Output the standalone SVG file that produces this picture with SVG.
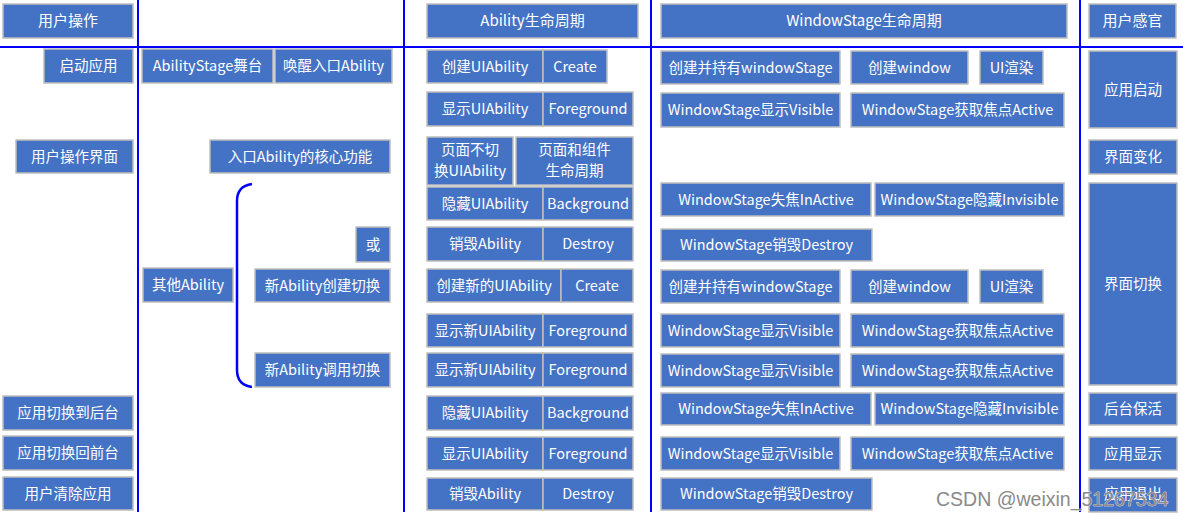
<svg xmlns="http://www.w3.org/2000/svg" width="1183" height="518" viewBox="0 0 1183 518">
<style>
.b{fill:#4472C4;stroke:#BFBFBF;stroke-width:1.5}
.t{fill:#FFFFFF;font-family:"Noto Sans CJK SC","Microsoft YaHei",sans-serif;font-size:14.5px;text-anchor:middle;dominant-baseline:central;transform:translateY(-1.5px)}
.h{font-size:15px}
.ln{stroke:#0000FF;stroke-width:2;fill:none}
.wm{fill:#8A8A8A;font-family:"Liberation Sans",Arial,sans-serif;font-size:19.5px;stroke:#FFFFFF;stroke-width:0.6;paint-order:stroke}
</style>
<rect width="1183" height="518" fill="#FFFFFF"/>
<g id="connectors">
<line class="ln" x1="0" y1="47" x2="1183" y2="47"/>
<line class="ln" x1="138" y1="0" x2="138" y2="512"/>
<line class="ln" x1="404" y1="0" x2="404" y2="512"/>
<line class="ln" x1="651" y1="0" x2="651" y2="512"/>
<line class="ln" x1="1080" y1="0" x2="1080" y2="512"/>
<path class="ln" style="stroke-width:2.5" d="M252,184 Q237,186 237,201 L237,370 Q237,385 252,387"/>
</g>
<g id="h-user"><rect class="b" x="3" y="4" width="130" height="34"/><text class="t h" x="68" y="21">用户操作</text></g>
<g id="h-ability"><rect class="b" x="427" y="4" width="211" height="34"/><text class="t h" x="532.5" y="21">Ability生命周期</text></g>
<g id="h-window"><rect class="b" x="661" y="4" width="406" height="34"/><text class="t h" x="864" y="21">WindowStage生命周期</text></g>
<g id="h-sense"><rect class="b" x="1089" y="4" width="87" height="34"/><text class="t h" x="1132.5" y="21">用户感官</text></g>
<g id="u1"><rect class="b" x="44" y="49" width="89" height="34"/><text class="t" x="88.5" y="66">启动应用</text></g>
<g id="u2"><rect class="b" x="16" y="140" width="117" height="33"/><text class="t" x="74.5" y="156.5">用户操作界面</text></g>
<g id="u3"><rect class="b" x="3" y="396" width="130" height="34"/><text class="t" x="68" y="413">应用切换到后台</text></g>
<g id="u4"><rect class="b" x="3" y="436" width="130" height="34"/><text class="t" x="68" y="453">应用切换回前台</text></g>
<g id="u5"><rect class="b" x="3" y="477" width="130" height="33"/><text class="t" x="68" y="493.5">用户清除应用</text></g>
<g id="s1"><rect class="b" x="142" y="49" width="131" height="34"/><text class="t" x="207.5" y="66">AbilityStage舞台</text></g>
<g id="s2"><rect class="b" x="275" y="49" width="117" height="34"/><text class="t" x="333.5" y="66">唤醒入口Ability</text></g>
<g id="s3"><rect class="b" x="210" y="140" width="180" height="33"/><text class="t" x="300" y="156.5">入口Ability的核心功能</text></g>
<g id="s4"><rect class="b" x="356" y="227" width="34" height="35"/><text class="t" x="373" y="244.5">或</text></g>
<g id="s5"><rect class="b" x="143" y="268" width="90" height="34"/><text class="t" x="188" y="285">其他Ability</text></g>
<g id="s6"><rect class="b" x="255" y="269" width="135" height="33"/><text class="t" x="322.5" y="285.5">新Ability创建切换</text></g>
<g id="s7"><rect class="b" x="255" y="353" width="135" height="34"/><text class="t" x="322.5" y="370">新Ability调用切换</text></g>
<g id="a1"><rect class="b" x="427" y="50" width="116" height="33"/><text class="t" x="485" y="66.5">创建UIAbility</text><rect class="b" x="543" y="50" width="64" height="33"/><text class="t" x="575" y="66.5">Create</text></g>
<g id="a2"><rect class="b" x="427" y="92" width="116" height="34"/><text class="t" x="485" y="109">显示UIAbility</text><rect class="b" x="543" y="92" width="90" height="34"/><text class="t" x="588" y="109">Foreground</text></g>
<g id="a3"><rect class="b" x="427" y="137" width="86" height="48"/><text class="t" x="470" y="150">页面不切</text><text class="t" x="470" y="171">换UIAbility</text><rect class="b" x="516" y="137" width="117" height="48"/><text class="t" x="574.5" y="150">页面和组件</text><text class="t" x="574.5" y="171">生命周期</text></g>
<g id="a4"><rect class="b" x="427" y="187" width="116" height="33"/><text class="t" x="485" y="203.5">隐藏UIAbility</text><rect class="b" x="543" y="187" width="90" height="33"/><text class="t" x="588" y="203.5">Background</text></g>
<g id="a5"><rect class="b" x="427" y="227" width="116" height="34"/><text class="t" x="485" y="244">销毁Ability</text><rect class="b" x="543" y="227" width="90" height="34"/><text class="t" x="588" y="244">Destroy</text></g>
<g id="a6"><rect class="b" x="427" y="269" width="134" height="33"/><text class="t" x="494" y="285.5">创建新的UIAbility</text><rect class="b" x="561" y="269" width="72" height="33"/><text class="t" x="597" y="285.5">Create</text></g>
<g id="a7"><rect class="b" x="427" y="314" width="116" height="33"/><text class="t" x="485" y="330.5">显示新UIAbility</text><rect class="b" x="543" y="314" width="90" height="33"/><text class="t" x="588" y="330.5">Foreground</text></g>
<g id="a8"><rect class="b" x="427" y="353" width="116" height="34"/><text class="t" x="485" y="370">显示新UIAbility</text><rect class="b" x="543" y="353" width="90" height="34"/><text class="t" x="588" y="370">Foreground</text></g>
<g id="a9"><rect class="b" x="427" y="396" width="116" height="34"/><text class="t" x="485" y="413">隐藏UIAbility</text><rect class="b" x="543" y="396" width="90" height="34"/><text class="t" x="588" y="413">Background</text></g>
<g id="a10"><rect class="b" x="427" y="437" width="116" height="33"/><text class="t" x="485" y="453.5">显示UIAbility</text><rect class="b" x="543" y="437" width="90" height="33"/><text class="t" x="588" y="453.5">Foreground</text></g>
<g id="a11"><rect class="b" x="427" y="478" width="116" height="32"/><text class="t" x="485" y="494">销毁Ability</text><rect class="b" x="543" y="478" width="90" height="32"/><text class="t" x="588" y="494">Destroy</text></g>
<g id="w1"><rect class="b" x="661" y="51" width="179" height="33"/><text class="t" x="750.5" y="67.5">创建并持有windowStage</text><rect class="b" x="851" y="51" width="117" height="33"/><text class="t" x="909.5" y="67.5">创建window</text><rect class="b" x="980" y="51" width="63" height="33"/><text class="t" x="1011.5" y="67.5">UI渲染</text></g>
<g id="w2"><rect class="b" x="661" y="93" width="179" height="34"/><text class="t" x="750.5" y="110">WindowStage显示Visible</text><rect class="b" x="851" y="93" width="213" height="34"/><text class="t" x="957.5" y="110">WindowStage获取焦点Active</text></g>
<g id="w3"><rect class="b" x="661" y="183" width="210" height="33"/><text class="t" x="766" y="199.5">WindowStage失焦InActive</text><rect class="b" x="875" y="183" width="189" height="33"/><text class="t" x="969.5" y="199.5">WindowStage隐藏Invisible</text></g>
<g id="w4"><rect class="b" x="661" y="229" width="211" height="32"/><text class="t" x="766.5" y="245">WindowStage销毁Destroy</text></g>
<g id="w5"><rect class="b" x="661" y="270" width="179" height="33"/><text class="t" x="750.5" y="286.5">创建并持有windowStage</text><rect class="b" x="851" y="270" width="117" height="33"/><text class="t" x="909.5" y="286.5">创建window</text><rect class="b" x="980" y="270" width="63" height="33"/><text class="t" x="1011.5" y="286.5">UI渲染</text></g>
<g id="w6"><rect class="b" x="661" y="314" width="179" height="33"/><text class="t" x="750.5" y="330.5">WindowStage显示Visible</text><rect class="b" x="851" y="314" width="213" height="33"/><text class="t" x="957.5" y="330.5">WindowStage获取焦点Active</text></g>
<g id="w7"><rect class="b" x="661" y="354" width="179" height="33"/><text class="t" x="750.5" y="370.5">WindowStage显示Visible</text><rect class="b" x="851" y="354" width="213" height="33"/><text class="t" x="957.5" y="370.5">WindowStage获取焦点Active</text></g>
<g id="w8"><rect class="b" x="661" y="393" width="210" height="32"/><text class="t" x="766" y="409">WindowStage失焦InActive</text><rect class="b" x="875" y="393" width="189" height="32"/><text class="t" x="969.5" y="409">WindowStage隐藏Invisible</text></g>
<g id="w9"><rect class="b" x="661" y="437" width="179" height="33"/><text class="t" x="750.5" y="453.5">WindowStage显示Visible</text><rect class="b" x="851" y="437" width="213" height="33"/><text class="t" x="957.5" y="453.5">WindowStage获取焦点Active</text></g>
<g id="w10"><rect class="b" x="661" y="478" width="211" height="32"/><text class="t" x="766.5" y="494">WindowStage销毁Destroy</text></g>
<g id="p1"><rect class="b" x="1089" y="51" width="88" height="77"/><text class="t" x="1133" y="89.5">应用启动</text></g>
<g id="p2"><rect class="b" x="1089" y="140" width="88" height="34"/><text class="t" x="1133" y="157">界面变化</text></g>
<g id="p3"><rect class="b" x="1089" y="183" width="88" height="202"/><text class="t" x="1133" y="284">界面切换</text></g>
<g id="p4"><rect class="b" x="1089" y="393" width="88" height="32"/><text class="t" x="1133" y="409">后台保活</text></g>
<g id="p5"><rect class="b" x="1089" y="437" width="88" height="33"/><text class="t" x="1133" y="453.5">应用显示</text></g>
<g id="p6"><rect class="b" x="1089" y="478" width="88" height="34"/><text class="t" x="1133" y="494">应用退出</text></g>
<text class="wm" x="936" y="506">CSDN @weixin_51267534</text>
</svg>
